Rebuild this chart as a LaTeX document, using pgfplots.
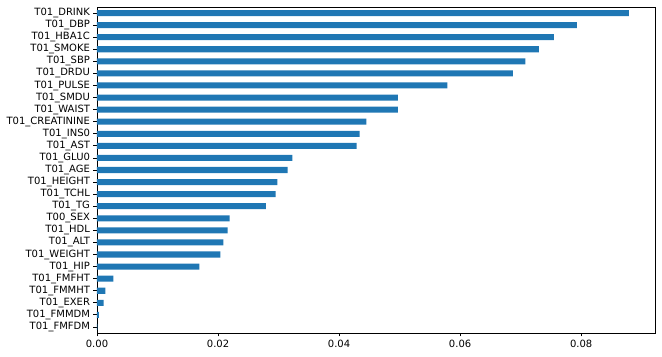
\documentclass[border=0pt]{standalone}
\usepackage{fontspec}
\setmainfont{DejaVu Sans}
\usepackage{pgfplots}
\pgfplotsset{compat=1.18}
\definecolor{mplblue}{HTML}{1F77B4}
\begin{document}
\begin{tikzpicture}
\begin{axis}[
  scale only axis, width=558pt, height=326pt,
  xbar, bar width=0.5,
  xmin=0, xmax=0.0922, ymin=-0.5, ymax=26.5,
  scaled x ticks=false,
  ytick={0,...,26},
  yticklabels={T01\_FMFDM,T01\_FMMDM,T01\_EXER,T01\_FMMHT,T01\_FMFHT,T01\_HIP,T01\_WEIGHT,T01\_ALT,T01\_HDL,T00\_SEX,T01\_TG,T01\_TCHL,T01\_HEIGHT,T01\_AGE,T01\_GLU0,T01\_AST,T01\_INS0,T01\_CREATININE,T01\_WAIST,T01\_SMDU,T01\_PULSE,T01\_DRDU,T01\_SBP,T01\_SMOKE,T01\_HBA1C,T01\_DBP,T01\_DRINK},
  xtick={0,0.02,0.04,0.06,0.08},
  xticklabels={0.00,0.02,0.04,0.06,0.08},
  xtick pos=bottom, ytick pos=left,
  tick align=outside, major tick length=3.5pt,
  tick style={black, line width=0.8pt},
  axis line style={line width=0.8pt},
  tick label style={font=\fontsize{10}{12}\selectfont},
  xticklabel style={yshift=-0.5pt},
  /pgf/number format/assume math mode=true,
]
\addplot[fill=mplblue, draw=none] coordinates {
(0.00005,0) (0.0003,1) (0.0011,2) (0.0014,3) (0.0027,4) (0.0169,5) (0.0204,6) (0.0209,7) (0.0216,8) (0.0219,9) (0.0279,10) (0.0295,11) (0.0298,12) (0.0315,13) (0.0323,14) (0.0429,15) (0.0434,16) (0.0445,17) (0.0497,18) (0.0497,19) (0.0579,20) (0.0687,21) (0.0708,22) (0.0730,23) (0.0755,24) (0.0793,25) (0.0879,26)
};
\end{axis}
\useasboundingbox ([xshift=-97pt,yshift=-24pt]current axis.south west) rectangle ([xshift=7pt,yshift=7pt]current axis.north east);
\end{tikzpicture}
\end{document}
